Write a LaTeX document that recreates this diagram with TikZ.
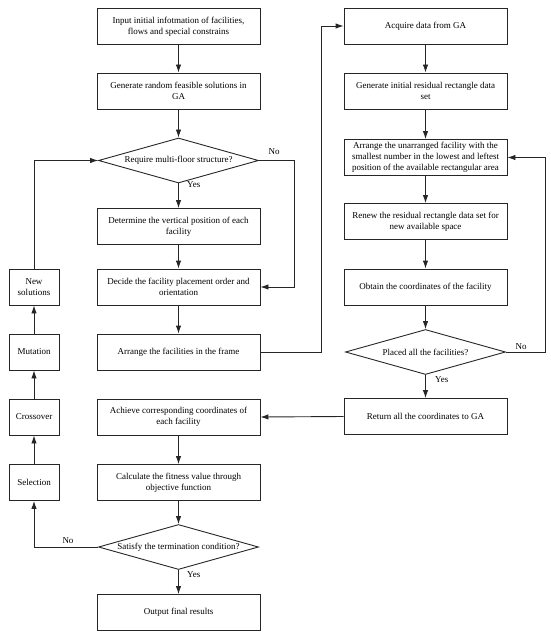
\documentclass[tikz,border=0pt]{standalone}
\usepackage{fontspec}
\setmainfont{Liberation Serif}
\usetikzlibrary{shapes,arrows.meta,positioning,calc}

\tikzset{
  txt/.style={font=\fontsize{9}{10.8}\selectfont},
  stepbox/.style={draw=black!85, line width=0.9pt, minimum width=163pt, minimum height=36pt, align=center, inner sep=1pt, txt},
  gabox/.style={draw=black!85, line width=0.9pt, minimum width=50pt, minimum height=36pt, align=center, inner sep=1pt, txt},
  decision/.style={draw=black!85, diamond, line width=0.9pt, minimum width=160pt, minimum height=45pt, inner sep=0pt, txt},
  flow/.style={draw=black!85, line width=0.9pt, -{Latex[length=8pt,width=5.5pt]}},
  tag/.style={inner sep=0pt, txt}
}

\begin{document}
\begin{tikzpicture}[x=1pt,y=-1pt]

\useasboundingbox (0,0) rectangle (550,636);

% Main GA column
\node[stepbox] (input) at (178.5,26.5) {Input initial infotmation of facilities,\\flows and special constrains};
\node[stepbox] (random) at (178.5,91) {Generate random feasible solutions in\\GA};
\node[decision] (floor) at (178.5,160.5) {\makebox[0pt]{Require multi-floor structure?}};
\node[stepbox] (vertical) at (178.5,226.5) {Determine the vertical position of each\\facility};
\node[stepbox] (order) at (178.5,287) {Decide the facility placement order and\\orientation};
\node[stepbox] (frame) at (178.5,352) {Arrange the facilities in the frame};
\node[stepbox] (coords) at (178.5,417) {Achieve corresponding coordinates of\\each facility};
\node[stepbox] (fitness) at (178.5,482.5) {Calculate the fitness value through\\objective function};
\node[decision] (stop) at (178.5,547) {\makebox[0pt]{Satisfy the termination condition?}};
\node[stepbox] (output) at (178.5,612.5) {Output final results};

% Genetic operators
\node[gabox] (newsol) at (34,287) {New\\solutions};
\node[gabox] (mutation) at (34,352) {Mutation};
\node[gabox] (crossover) at (34,417) {Crossover};
\node[gabox] (selection) at (34,482.5) {Selection};

% Placement column
\node[stepbox] (acquire) at (425.5,26) {Acquire data from GA};
\node[stepbox] (residual) at (425.5,91) {Generate initial residual rectangle data\\set};
\node[stepbox] (place) at (425.5,157.5) {Arrange the unarranged facility with the\\smallest number in the lowest and leftest\\position of the available rectangular area};
\node[stepbox] (renew) at (425.5,221.5) {Renew the residual rectangle data set for\\new available space};
\node[stepbox] (obtain) at (425.5,287) {Obtain the coordinates of the facility};
\node[decision] (placed) at (425.5,352) {\makebox[0pt]{Placed all the facilities?}};
\node[stepbox] (return) at (425.5,416.5) {Return all the coordinates to GA};

% Main flow
\draw[flow] (input) -- (random);
\draw[flow] (random) -- (floor);
\draw[flow] (floor) -- (vertical);
\draw[flow] (vertical) -- (order);
\draw[flow] (order) -- (frame);
\draw[flow] (coords) -- (fitness);
\draw[flow] (fitness) -- (stop);
\draw[flow] (stop) -- (output);
\draw[flow] (floor.east) -- ++(35,0) |- (order.east);
\draw[flow] (frame.east) -- ++(61,0) |- (acquire.west);

% Placement flow
\draw[flow] (acquire) -- (residual);
\draw[flow] (residual) -- (place);
\draw[flow] (place) -- (renew);
\draw[flow] (renew) -- (obtain);
\draw[flow] (obtain) -- (placed);
\draw[flow] (placed) -- (return);
\draw[flow] (placed.east) -- ++(39,0) |- (place.east);
\draw[flow] (return.west) -- (coords.east);

% GA loop
\draw[flow] (stop.west) -| (selection.south);
\draw[flow] (selection) -- (crossover);
\draw[flow] (crossover) -- (mutation);
\draw[flow] (mutation) -- (newsol);
\draw[flow] (newsol.north) |- (floor.west);

% Branch labels
\node[tag, anchor=west] (yes1) at (187,185) {Yes};
\node[tag] (no1) at (274,152) {No};
\node[tag, anchor=west] (yes2) at (435,380) {Yes};
\node[tag] (no2) at (521,347) {No};
\node[tag, anchor=west] (yes3) at (187,575) {Yes};
\node[tag] (no3) at (68,541) {No};

\end{tikzpicture}
\end{document}
